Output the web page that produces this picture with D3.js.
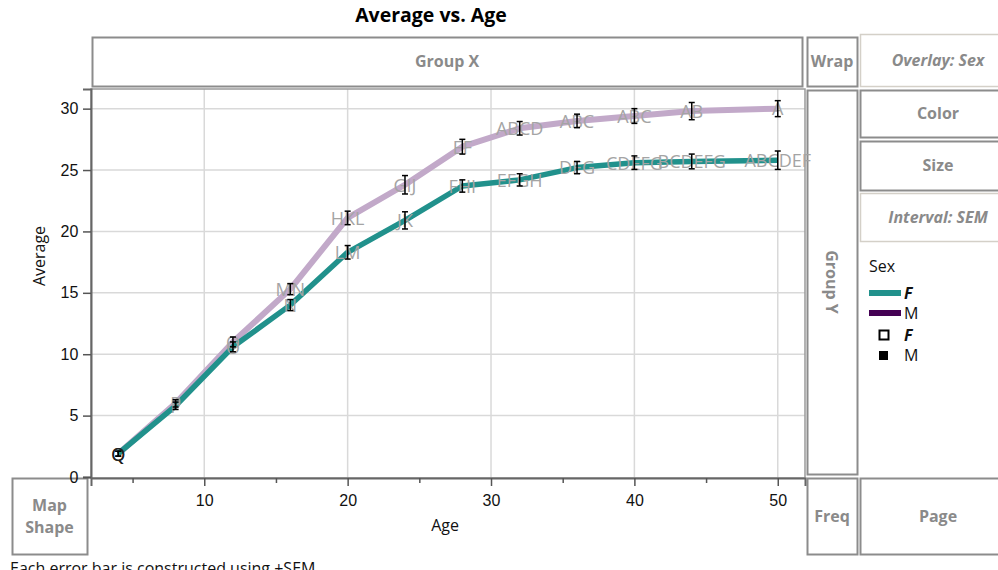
<!DOCTYPE html>
<html>
<head>
<meta charset="utf-8">
<script src="https://cdn.jsdelivr.net/npm/d3@7/dist/d3.min.js"></script>
<style>
  body { margin: 0; background: #fff; }
  svg { font-family: "Open Sans", "Noto Sans", sans-serif; }
</style>
</head>
<body>
<div id="chart"></div>
<script>
"use strict";

// ages on the x axis
var ages = [4, 8, 12, 16, 20, 24, 28, 32, 36, 40, 44, 50];

// averages per sex
var meanF = [1.9, 5.8, 10.6, 14.0, 18.3, 20.9, 23.7, 24.2, 25.2, 25.6, 25.7, 25.8];
var meanM = [1.9, 6.0, 11.0, 15.3, 21.1, 23.8, 26.9, 28.4, 29.0, 29.4, 29.8, 30.0];

// standard error of the mean
var semF = [0.2, 0.3, 0.4, 0.45, 0.55, 0.7, 0.5, 0.5, 0.5, 0.55, 0.6, 0.75];
var semM = [0.2, 0.3, 0.4, 0.45, 0.55, 0.75, 0.6, 0.55, 0.55, 0.6, 0.7, 0.65];

// connecting letters report
var lettersF = ["Q", "P", "O", "N", "LM", "JK", "FHI", "EFGH", "DEG", "CDEFG", "BCDEFG", "ABCDEF"];
var lettersM = ["Q", "P", "O", "MN", "HKL", "GIJ", "EF", "ABCD", "ABC", "ABC", "AB", "A"];

var xTicks = [10, 20, 30, 40, 50];
var xMinor = [5, 15, 25, 35, 45];
var yTicks = [0, 5, 10, 15, 20, 25, 30];

var colorF = "#21918c";
var colorM = "#c2a9c9";
var colorMLegend = "#440154";

var W = 998, H = 570;
var svg = d3.select("#chart").append("svg").attr("width", W).attr("height", H);

var plot = {left: 91, top: 89, right: 805, bottom: 478};

var x = d3.scaleLinear().domain([2.1, 51.9]).range([plot.left, plot.right]);
var y = d3.scaleLinear().domain([0, 31.6]).range([plot.bottom - 1, plot.top]);

// title
svg.append("text")
  .attr("x", 431).attr("y", 22)
  .attr("text-anchor", "middle")
  .style("font-size", "19.5px").style("font-weight", "bold")
  .text("Average vs. Age");

// drop zone boxes
function zone(x0, y0, w, h, label, opts) {
  opts = opts || {};
  svg.append("rect")
    .attr("x", x0 + 0.5).attr("y", y0 + 0.5)
    .attr("width", w).attr("height", h)
    .attr("fill", "#fff")
    .attr("stroke", opts.light ? "#d4d0c8" : "#8c8c8c")
    .attr("stroke-width", opts.light ? 1.5 : 2);
  if (!label) return;
  var cx = opts.cx || (x0 + w / 2);
  var t = svg.append("g")
    .attr("transform", "translate(" + cx + "," + (y0 + h / 2) + ")" + (opts.rotate ? " rotate(90)" : ""));
  var lines = label.split("\n");
  lines.forEach(function(s, i) {
    t.append("text")
      .attr("text-anchor", "middle")
      .attr("y", (i - (lines.length - 1) / 2) * 22)
      .attr("dy", "0.35em")
      .attr("fill", "#8a8a8a")
      .style("font-size", "16px").style("font-weight", "bold")
      .style("font-style", opts.italic ? "italic" : "normal")
      .text(s);
  });
}

zone(92, 37, 710, 49, "Group X");
zone(807, 37, 50, 49, "Wrap");
zone(860, 34, 160, 52, "Overlay: Sex", {light: true, italic: true, cx: 938});
zone(860, 90, 160, 47, "Color", {cx: 938});
zone(860, 141, 160, 49, "Size", {cx: 938});
zone(860, 193, 160, 48, "Interval: SEM", {light: true, italic: true, cx: 938});
zone(807, 90, 50, 384, "Group Y", {rotate: true});
zone(12, 478, 75, 76, "Map\nShape");
zone(807, 478, 50, 76, "Freq");
zone(860, 478, 160, 76, "Page", {cx: 938});

// gridlines
var g = svg.append("g");
g.selectAll(".gx").data(xTicks).enter().append("line")
  .attr("x1", function(d) { return x(d); }).attr("x2", function(d) { return x(d); })
  .attr("y1", plot.top).attr("y2", plot.bottom)
  .attr("stroke", "#d9d9d9").attr("stroke-width", 1.5);
g.selectAll(".gy").data(yTicks.slice(1)).enter().append("line")
  .attr("x1", plot.left).attr("x2", plot.right)
  .attr("y1", function(d) { return y(d); }).attr("y2", function(d) { return y(d); })
  .attr("stroke", "#d9d9d9").attr("stroke-width", 1.5);

// plot frame
svg.append("rect")
  .attr("x", plot.left).attr("y", plot.top)
  .attr("width", plot.right - plot.left).attr("height", plot.bottom - plot.top)
  .attr("fill", "none").attr("stroke", "#9a9a9a").attr("stroke-width", 1.5);

// axes
var xAxis = svg.append("g")
  .attr("transform", "translate(0," + plot.bottom + ")")
  .call(d3.axisBottom(x).tickValues(xTicks).tickSize(8).tickFormat(d3.format("d")));
svg.append("g")
  .attr("transform", "translate(0," + plot.bottom + ")")
  .call(d3.axisBottom(x).tickValues(xMinor).tickSize(5).tickFormat(""))
  .call(function(a) { a.select(".domain").remove(); });
var yAxis = svg.append("g")
  .attr("transform", "translate(" + plot.left + ",0)")
  .call(d3.axisLeft(y).tickValues(yTicks).tickSize(8).tickFormat(d3.format("d")));

svg.selectAll(".tick line").attr("stroke", "#555").attr("stroke-width", 1.5);
svg.selectAll(".domain").attr("stroke", "#666").attr("stroke-width", 2);
xAxis.selectAll("text").style("font-size", "16px").attr("fill", "#111").attr("dy", "1.05em");
yAxis.selectAll("text").style("font-size", "16px").attr("fill", "#111").attr("dx", "-0.1em");

svg.append("text")
  .attr("x", x(26.8)).attr("y", 531)
  .attr("text-anchor", "middle")
  .style("font-size", "16px").attr("fill", "#111")
  .text("Age");
svg.append("text")
  .attr("transform", "translate(45,256) rotate(-90)")
  .attr("text-anchor", "middle")
  .style("font-size", "16px").attr("fill", "#111")
  .text("Average");

// series
function rows(means, sems, letters) {
  return ages.map(function(a, i) {
    return {age: a, mean: means[i], sem: sems[i], letter: letters[i]};
  });
}
var dataF = rows(meanF, semF, lettersF);
var dataM = rows(meanM, semM, lettersM);

var line = d3.line()
  .x(function(d) { return x(d.age); })
  .y(function(d) { return y(d.mean); });

var marks = svg.append("g");
marks.append("path").datum(dataM)
  .attr("d", line).attr("fill", "none")
  .attr("stroke", colorM).attr("stroke-width", 6).attr("stroke-linejoin", "round");
marks.append("path").datum(dataF)
  .attr("d", line).attr("fill", "none")
  .attr("stroke", colorF).attr("stroke-width", 5.5).attr("stroke-linejoin", "round");

// letters
[dataM, dataF].forEach(function(data) {
  marks.selectAll(null).data(data).enter().append("text")
    .attr("x", function(d) { return x(d.age); })
    .attr("y", function(d) { return y(d.mean); })
    .attr("dy", "0.38em")
    .attr("text-anchor", "middle")
    .attr("fill", function(d) { return d.age === 4 ? "#222" : "#a4a4a4"; })
    .style("font-size", "18px")
    .text(function(d) { return d.letter; });
});

// error bars
[dataM, dataF].forEach(function(data) {
  var eb = marks.selectAll(null).data(data).enter().append("g")
    .attr("stroke", "#000").attr("stroke-width", 1.5);
  eb.append("line")
    .attr("x1", function(d) { return x(d.age); }).attr("x2", function(d) { return x(d.age); })
    .attr("y1", function(d) { return y(d.mean - d.sem); })
    .attr("y2", function(d) { return y(d.mean + d.sem); });
  eb.append("line")
    .attr("x1", function(d) { return x(d.age) - 3; }).attr("x2", function(d) { return x(d.age) + 3; })
    .attr("y1", function(d) { return y(d.mean - d.sem); })
    .attr("y2", function(d) { return y(d.mean - d.sem); });
  eb.append("line")
    .attr("x1", function(d) { return x(d.age) - 3; }).attr("x2", function(d) { return x(d.age) + 3; })
    .attr("y1", function(d) { return y(d.mean + d.sem); })
    .attr("y2", function(d) { return y(d.mean + d.sem); });
});

// legend
var leg = svg.append("g").attr("transform", "translate(868,0)");
leg.append("text").attr("x", 1).attr("y", 272)
  .style("font-size", "16px").attr("fill", "#111").text("Sex");
leg.append("rect").attr("x", 1).attr("y", 290).attr("width", 32).attr("height", 6).attr("fill", colorF);
leg.append("rect").attr("x", 1).attr("y", 310).attr("width", 32).attr("height", 6).attr("fill", colorMLegend);
leg.append("rect").attr("x", 11.5).attr("y", 330.5).attr("width", 9).attr("height", 9)
  .attr("fill", "#fff").attr("stroke", "#000").attr("stroke-width", 2);
leg.append("rect").attr("x", 11).attr("y", 351).attr("width", 9).attr("height", 9).attr("fill", "#000");
[["F", 299, true], ["M", 319, false], ["F", 341, true], ["M", 361, false]].forEach(function(r) {
  leg.append("text").attr("x", 36).attr("y", r[1])
    .style("font-size", "16px")
    .style("font-weight", r[2] ? "bold" : "normal")
    .style("font-style", r[2] ? "italic" : "normal")
    .attr("fill", "#111")
    .text(r[0]);
});

// footer
svg.append("text")
  .attr("x", 10).attr("y", 574)
  .style("font-size", "16px").attr("fill", "#111")
  .text("Each error bar is constructed using \u00b1SEM");
</script>
</body>
</html>
